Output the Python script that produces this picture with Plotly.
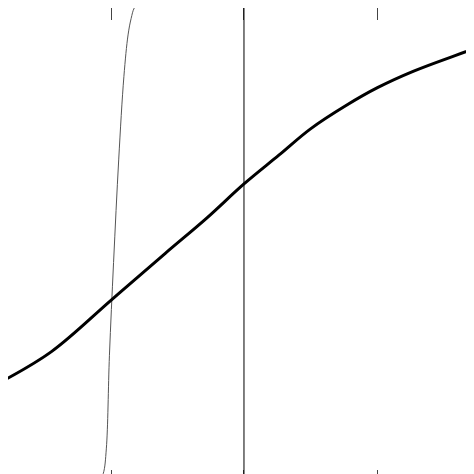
import plotly.graph_objects as go

thick_x = [0, 50, 108, 160, 200, 236, 270, 300, 335, 365, 400, 440, 474]
thick_y = [104, 134, 184, 229, 263, 296, 324, 349, 372, 389, 405, 420, 432]

# steep thin sigmoid
thin_x = [88, 95, 100, 103, 106, 110, 115, 120, 124, 127, 130, 135, 145]
thin_y = [0, 6, 16, 40, 130, 220, 320, 400, 440, 456, 466, 472, 474]

tick_vals = [108, 236, 365]

fig = go.Figure()
fig.add_trace(go.Scatter(x=thin_x, y=thin_y, mode="lines", line=dict(color="#555", width=1, shape="spline")))
fig.add_trace(go.Scatter(x=thick_x, y=thick_y, mode="lines", line=dict(color="black", width=3, shape="spline")))
fig.add_vline(x=236, line=dict(color="black", width=1))

fig.update_layout(
    width=474, height=474, margin=dict(l=0, r=0, t=0, b=0),
    plot_bgcolor="white", paper_bgcolor="white", showlegend=False,
    xaxis=dict(range=[8, 466], tickvals=tick_vals, ticks="inside", ticklen=12, showticklabels=False,
               showgrid=False, zeroline=False, showline=True, linecolor="black", mirror="ticks"),
    yaxis=dict(range=[8, 466], showticklabels=False, showgrid=False, zeroline=False,
               showline=False),
)
fig.write_html("out.html")
